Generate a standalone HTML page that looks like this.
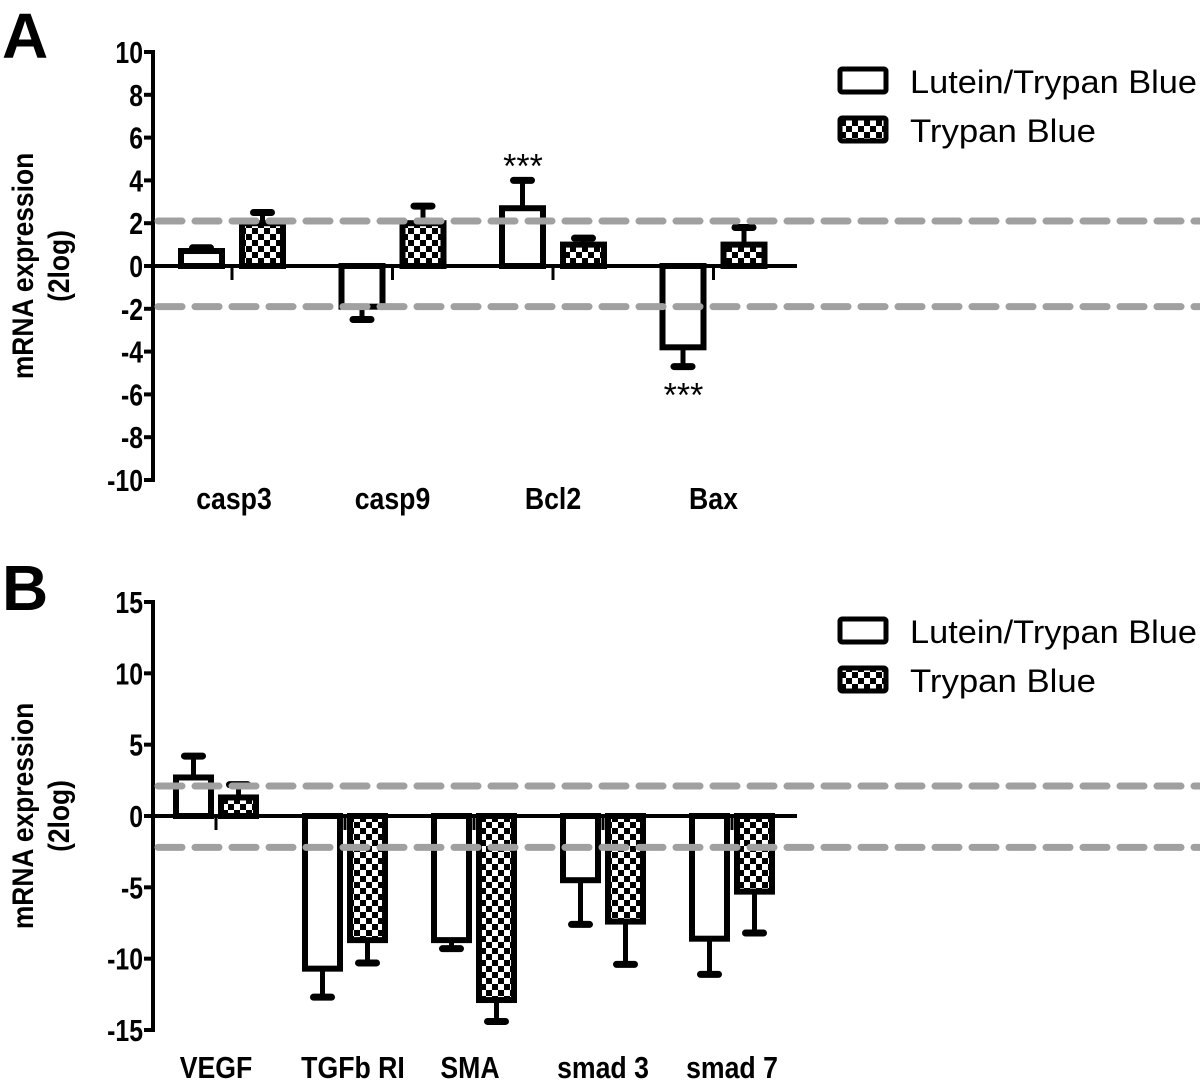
<!DOCTYPE html>
<html><head><meta charset="utf-8"><style>
html,body{margin:0;padding:0;background:#fff;}
svg{display:block;font-family:"Liberation Sans",Arial,sans-serif;}
</style></head><body>
<svg id="fig" width="1200" height="1080" viewBox="0 0 1200 1080">
<defs>
<pattern id="chk" width="12" height="12" patternUnits="userSpaceOnUse">
<rect width="12" height="12" fill="#fff"/><rect width="6" height="6" fill="#000"/><rect x="6" y="6" width="6" height="6" fill="#000"/>
</pattern>
</defs>
<text x="2" y="58" font-size="64" font-weight="bold">A</text>
<text x="2" y="610" font-size="64" font-weight="bold">B</text>
</svg>
<script>
// Panel A data
const catsA = ["casp3","casp9","Bcl2","Bax"];
const lutA = [0.7,-1.9,2.7,-3.8];
const lutErrA = [0.85,-2.5,4.0,-4.7];
const tryA = [2.0,2.0,1.0,1.0];
const tryErrA = [2.5,2.8,1.3,1.8];
const ticksA = [10,8,6,4,2,0,-2,-4,-6,-8,-10];
const dashA = [2.1,-1.9];
// Panel B data
const catsB = ["VEGF","TGFb RI","SMA","smad 3","smad 7"];
const lutB = [2.7,-10.7,-8.7,-4.5,-8.6];
const lutErrB = [4.2,-12.7,-9.3,-7.6,-11.1];
const tryB = [1.3,-8.7,-12.9,-7.4,-5.3];
const tryErrB = [2.2,-10.3,-14.4,-10.4,-8.2];
const ticksB = [15,10,5,0,-5,-10,-15];
const dashB = [2.1,-2.2];

const NS="http://www.w3.org/2000/svg";
const svg=document.getElementById('fig');
function mk(tag,attrs,parent){const e=document.createElementNS(NS,tag);for(const k in attrs)e.setAttribute(k,attrs[k]);(parent||svg).appendChild(e);return e;}
function ctext(x,y,str,size,anchor,parent,sx,rot){
  const t=mk('text',{x:0,y:0,'font-size':size,'font-weight':'bold','text-anchor':anchor,
    transform:`translate(${x},${y})${rot?' rotate(-90)':''} scale(${sx},1)`},parent);
  t.textContent=str;return t;
}

function panel(cfg){
  const g=mk('g',{});
  
  
  const y=v=>cfg.y0-(v-cfg.vmin)/(cfg.vmax-cfg.vmin)*(cfg.y0-cfg.y1);
  const ax=153, xr=797;
  const t1=mk('text',{x:0,y:0,'font-size':30,'font-weight':'bold','text-anchor':'middle',transform:`translate(33,${cfg.ymid}) rotate(-90) scale(0.88,1)`},g);
  t1.textContent='mRNA expression';
  
  
  const t2=mk('text',{x:0,y:0,'font-size':30,'font-weight':'bold','text-anchor':'middle',transform:`translate(69,${cfg.ymid}) rotate(-90) scale(0.88,1)`},g);
  t2.textContent='(2log)';
  
  
  const yaxis=mk('line',{x1:ax,x2:ax,y1:y(cfg.vmax)-2,y2:y(cfg.vmin)+2,stroke:'#000','stroke-width':4},g);
  
  
  cfg.ticks.forEach(v=>{
    const tk=mk('line',{x1:ax-9,x2:ax,y1:y(v),y2:y(v),stroke:'#000','stroke-width':4},g);
    
    
    const tl=ctext(ax-10,y(v)+11,String(v),31,'end',g,0.8,false);
    
    
  });
  cfg.cats.forEach((c,i)=>{
    const cx=cfg.cx0+i*cfg.step;
    const series=[[cfg.lut[i],cfg.lutErr[i],cx-cfg.off-cfg.bw,'#fff','lutein'],[cfg.tr[i],cfg.trErr[i],cx+cfg.off,'url(#chk)','trypan']];
    series.forEach(s=>{
      const [v,e,x,fill,nm]=s;
      const top=Math.min(y(v),y(0)), h=Math.abs(y(v)-y(0));
      const errLine=mk('line',{x1:x+cfg.bw/2,x2:x+cfg.bw/2,y1:y(v),y2:y(e),stroke:'#000','stroke-width':5},g);
      
      
      const cap=mk('line',{x1:x+cfg.bw/2-9,x2:x+cfg.bw/2+9,y1:y(e),y2:y(e),stroke:'#000','stroke-width':7,'stroke-linecap':'round'},g);
      
      
      const r=mk('rect',{x:x,y:top,width:cfg.bw,height:h,fill:fill,stroke:'#000','stroke-width':6},g);
      
      
    });
    const ct=mk('line',{x1:cx,x2:cx,y1:y(0),y2:y(0)+14,stroke:'#000','stroke-width':3},g);
    
    
    const xl=ctext(cx+cfg.lblShift[i],cfg.lblY,c,31,'middle',g,0.86,false);
    
    
  });
  const xaxis=mk('line',{x1:ax,x2:xr,y1:y(0),y2:y(0),stroke:'#000','stroke-width':4},g);
  
  
  cfg.dash.forEach(v=>{
    const d=mk('line',{x1:ax+5,x2:1200,y1:y(v),y2:y(v),stroke:'#a0a0a0','stroke-width':7,'stroke-dasharray':'24 13','stroke-linecap':'round'},g);
    
    
  });
  [['Lutein/Trypan Blue','#fff',287],['Trypan Blue','url(#chk)',186]].forEach((L,k)=>{
    const ly=cfg.legY+k*49;
    const lb=mk('rect',{x:840,y:ly,width:46,height:23,fill:L[1],stroke:'#000','stroke-width':5,rx:2},g);
    
    
    const lt=mk('text',{x:910,y:ly+24,'font-size':32,textLength:L[2],lengthAdjust:'spacingAndGlyphs'},g);
    lt.textContent=L[0];
    
    
  });
  return y;
}

const yA=panel({name:'panel-a-chart',cats:catsA,lut:lutA,lutErr:lutErrA,tr:tryA,trErr:tryErrA,ticks:ticksA,dash:dashA,
  vmin:-10,vmax:10,y0:480,y1:52,ymid:266,cx0:232,step:160.5,bw:41,off:10,lblY:509,legY:69,lblShift:[2,0,0,0]});
const yB=panel({name:'panel-b-chart',cats:catsB,lut:lutB,lutErr:lutErrB,tr:tryB,trErr:tryErrB,ticks:ticksB,dash:dashB,
  vmin:-15,vmax:15,y0:1030,y1:602,ymid:816,cx0:216,step:129,bw:35,off:5,lblY:1078,legY:619,lblShift:[0,8,-4,0,0]});

const s1=ctext(232+2*160.5-30,yA(lutErrA[2])-3,'***',34,'middle',null,1,false);
s1.setAttribute('font-weight','normal');


const s2=ctext(232+3*160.5-30,yA(lutErrA[3])+40,'***',34,'middle',null,1,false);
s2.setAttribute('font-weight','normal');


</script>
</body></html>
